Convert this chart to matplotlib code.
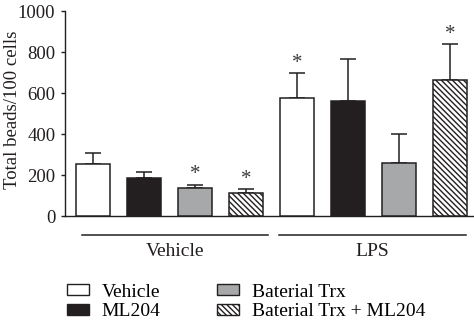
import numpy as np
import matplotlib
matplotlib.use("Agg")
from matplotlib import pyplot as plt
from matplotlib.patches import Patch
from matplotlib import transforms

plt.rcParams['font.family'] = ['Liberation Serif', 'DejaVu Serif']
plt.rcParams['hatch.linewidth'] = 1.0

groups = ['Vehicle', 'LPS']
treatments = ['Vehicle', 'ML204', 'Baterial Trx', 'Baterial Trx + ML204']
means = [254, 185, 140, 115, 578, 561, 261, 665]
errs = [56, 31, 14, 17, 120, 205, 140, 174]
stars = [False, False, True, True, True, False, False, True]

fills = ['white', '#231f20', '#a7a8aa', 'white']
hatches = [None, None, None, '\\' * 6]
edge = '#231f20'
fs = 14

fig = plt.figure(figsize=(4.74, 3.27), dpi=100)
ax = fig.add_axes([65 / 474, 1 - 216.3 / 327, 409 / 474, 205 / 327])

x = np.arange(len(means))
for i in range(len(means)):
    k = i % 4
    ax.bar(x[i], means[i], width=0.667, color=fills[k], edgecolor=edge,
           linewidth=1.1, hatch=hatches[k], zorder=3)
ax.errorbar(x, means, yerr=[np.zeros(len(errs)), errs], fmt='none',
            ecolor=edge, elinewidth=1.1, capsize=6, capthick=1.1, zorder=2)
for i in range(len(means)):
    if stars[i]:
        ax.annotate('*', (x[i], means[i] + errs[i]), xytext=(0, 0.5),
                    textcoords='offset points', ha='center', va='bottom',
                    fontsize=15, color='#3a3a3a')

ax.set_xlim(-0.55, 7.47)
ax.set_ylim(0, 1000)
ax.set_yticks(range(0, 1001, 200))
ax.set_xticks([])
ax.tick_params(axis='y', labelsize=13.5, length=3, width=1, pad=4, colors=edge)
for s in ['top', 'right']:
    ax.spines[s].set_visible(False)
for s in ['left', 'bottom']:
    ax.spines[s].set_linewidth(1)
    ax.spines[s].set_color(edge)
ax.set_ylabel('Total beads/100 cells', fontsize=13.5, color=edge, va='center')
ax.yaxis.set_label_coords(-0.128, 0.52)

# group brackets under the axis
trans = transforms.blended_transform_factory(ax.transData, ax.transAxes)
spans = [(-0.22, 3.43), (3.65, 7.31)]
for (a, b), g in zip(spans, groups):
    ax.plot([a, b], [-0.091, -0.091], transform=trans, color=edge,
            lw=1.1, clip_on=False)
    ax.text((a + b) / 2, -0.17, g, transform=trans, ha='center', va='center',
            fontsize=fs, color=edge)

handles = [Patch(facecolor=fills[k], edgecolor=edge, hatch=hatches[k],
                 linewidth=1.0, label=treatments[k]) for k in range(4)]
fig.legend(handles=handles, ncol=2, loc='center left',
           bbox_to_anchor=(66.7 / 474, 1 - 302 / 327), frameon=False,
           fontsize=fs, handlelength=1.15, handleheight=0.5,
           handletextpad=0.65, columnspacing=2.9, labelspacing=0.15,
           borderpad=0, borderaxespad=0)

plt.savefig('out.png', dpi=100)
